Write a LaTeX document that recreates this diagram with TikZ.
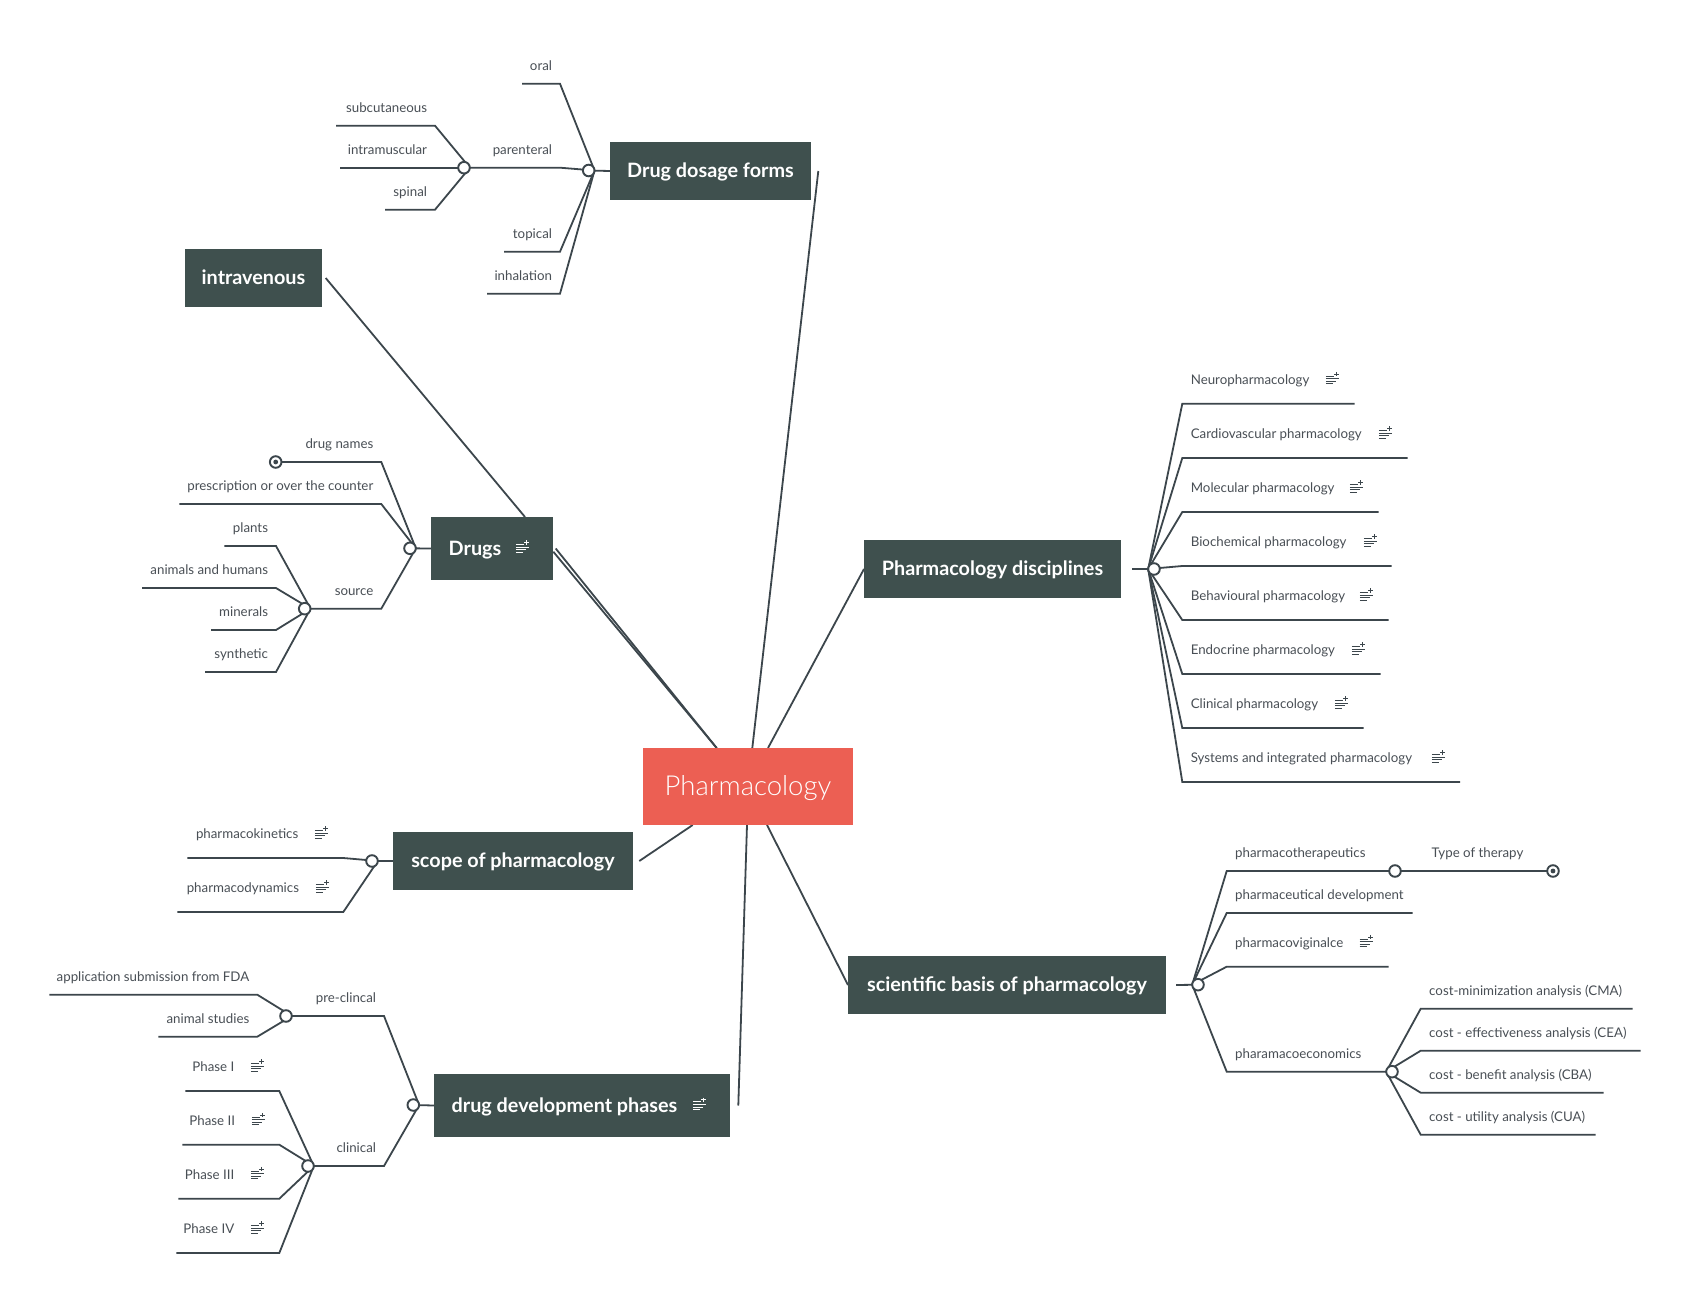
\documentclass[tikz,border=0pt]{standalone}
\usepackage{fontspec}
\setmainfont{Lato}
\newfontfamily\rootfont{Lato Light}
\usetikzlibrary{calc}
\pgfdeclarelayer{conn}
\pgfsetlayers{conn,main}
\definecolor{boxdark}{HTML}{3F504E}
\definecolor{linedark}{HTML}{3C464C}
\definecolor{rootred}{HTML}{EC5F53}
\definecolor{leaftext}{HTML}{494F55}
\tikzset{
  conn/.style={draw=linedark,line width=1.8pt,line join=miter},
  hub/.style={circle,draw=linedark,fill=white,line width=1.9pt,minimum size=11.6pt,inner sep=0pt,outer sep=0pt},
  leaf/.style={font=\fontsize{13.3}{15}\selectfont,text=leaftext,inner sep=0pt,outer sep=0pt},
  mainbox/.style={fill=boxdark,text=white,font=\fontsize{19.8}{22}\bfseries\selectfont,inner sep=0pt,outer sep=0pt,text height=16.6pt,text depth=3.5pt},
  rootbox/.style={fill=rootred,text=white,font=\rootfont\fontsize{27.5}{30}\selectfont,inner sep=0pt,outer sep=0pt,text height=23pt,text depth=5pt},
  notes/.pic={
    \draw[line width=1.15pt] (-6.5,-2.6)--(1.5,-2.6) (-6.5,0.2)--(6.5,0.2) (-6.5,2.8)--(4,2.8) (-6.5,5.2)--(0.5,5.2);
    \draw[line width=1.15pt] (2,-4.6)--(6.5,-4.6) (4.25,-6.8)--(4.25,-2.4);
  }
}
% left leaf: name, hub, xend, xbend, y, text
\newcommand\LL[6]{%
  \node[leaf,anchor=base east] (#1) at ({#4-8},{#5-13.2}) {#6};
  \coordinate (#1-b) at (#4,#5);
  \coordinate (#1-e) at (#3,#5);
  \begin{pgfonlayer}{conn}\draw[conn] (#2.east) -- (#1-b) -- (#1-e);\end{pgfonlayer}}
% left branch ending on a hub: name, hub, endhub, xbend, y, text
\newcommand\LH[6]{%
  \node[leaf,anchor=base east] (#1) at ({#4-8},{#5-13.2}) {#6};
  \coordinate (#1-b) at (#4,#5);
  \begin{pgfonlayer}{conn}\draw[conn] (#2.east) -- (#1-b) -- (#3.center);\end{pgfonlayer}}
% left leaf with icon: name, hub, xend, xbend, y, text, textright, iconx
\newcommand\LI[8]{%
  \node[leaf,anchor=base east] (#1) at (#7,{#5-19.6}) {#6};
  \pic[color=linedark] at (#8,{#5-25}) {notes};
  \coordinate (#1-b) at (#4,#5);
  \coordinate (#1-e) at (#3,#5);
  \begin{pgfonlayer}{conn}\draw[conn] (#2.east) -- (#1-b) -- (#1-e);\end{pgfonlayer}}
% right leaf: name, hub, xend, xbend, y, text
\newcommand\RL[6]{%
  \node[leaf,anchor=base west] (#1) at ({#4+8.5},{#5-13.2}) {#6};
  \coordinate (#1-b) at (#4,#5);
  \coordinate (#1-e) at (#3,#5);
  \begin{pgfonlayer}{conn}\draw[conn] (#2.west) -- (#1-b) -- (#1-e);\end{pgfonlayer}}
% right branch ending on a hub
\newcommand\RH[6]{%
  \node[leaf,anchor=base west] (#1) at ({#4+8.5},{#5-13.2}) {#6};
  \coordinate (#1-b) at (#4,#5);
  \begin{pgfonlayer}{conn}\draw[conn] (#2.west) -- (#1-b) -- (#3.center);\end{pgfonlayer}}
% right leaf with icon: name, hub, xend, xbend, y, text, iconx
\newcommand\RI[7]{%
  \node[leaf,anchor=base west] (#1) at ({#4+8.5},{#5-19.6}) {#6};
  \pic[color=linedark] at (#7,{#5-25}) {notes};
  \coordinate (#1-b) at (#4,#5);
  \coordinate (#1-e) at (#3,#5);
  \begin{pgfonlayer}{conn}\draw[conn] (#2.west) -- (#1-b) -- (#1-e);\end{pgfonlayer}}
\begin{document}
\begin{tikzpicture}[x=1pt,y=-1pt]
\useasboundingbox (0,0) rectangle (1690,1301);
\begin{pgfonlayer}{conn}\fill[white] (0,0) rectangle (1690,1301);\end{pgfonlayer}

% main boxes
\node[rootbox,minimum width=210pt,minimum height=77pt] (root) at (748,786.5) {Pharmacology};
\node[mainbox,minimum width=201pt,minimum height=58pt] (dosage) at (710.5,171) {Drug dosage forms};
\node[mainbox,minimum width=137pt,minimum height=58pt] (iv) at (253.5,278) {intravenous};
\node[mainbox,minimum width=122pt,minimum height=63pt] (drugs) at (492,548.5) {Drugs\kern34pt\null};
\pic[color=white] at (522.3,547) {notes};
\node[mainbox,minimum width=240pt,minimum height=58pt] (scope) at (513,861) {scope of pharmacology};
\node[mainbox,minimum width=296pt,minimum height=63pt] (dev) at (582,1105.5) {drug development phases\kern35pt\null};
\pic[color=white] at (699.3,1104.3) {notes};
\node[mainbox,minimum width=257pt,minimum height=58pt] (disc) at (992.5,569) {Pharmacology disciplines};
\node[mainbox,minimum width=318pt,minimum height=58pt] (sci) at (1007,985) {scientific basis of pharmacology};

% hubs
\node[hub] (j1) at (588.7,170.5) {};
\node[hub] (j2) at (464,167.7) {};
\node[hub] (jd) at (410,548.3) {};
\node[hub] (js) at (304.7,608.7) {};
\node[hub] (jc) at (372,861) {};
\node[hub] (jv) at (413.3,1105) {};
\node[hub] (ja) at (286,1016) {};
\node[hub] (jb) at (308,1166) {};
\node[hub] (jp) at (1154,569) {};
\node[hub] (jq) at (1198,984.7) {};
\node[hub] (jr) at (1395,871) {};
\node[hub] (jt) at (1392,1071.7) {};
\node[hub] (tn) at (275.7,462) {};
\fill[linedark] (tn.center) circle (2.4pt);
\node[hub] (tt) at (1553,871) {};
\fill[linedark] (tt.center) circle (2.4pt);

% connectors from the root
\begin{pgfonlayer}{conn}
\draw[conn] ([xshift=7.3pt]dosage.east) -- ([xshift=4.3pt]root.north);
\draw[conn] ([xshift=3.7pt]iv.east) -- ([xshift=33pt]drugs.north);
\draw[conn] ([xshift=2.7pt]drugs.east) -- ([xshift=-31.3pt]root.north);
\draw[conn] ([xshift=0.3pt,yshift=-3.2pt]drugs.east) -- ([xshift=-31.3pt]root.north);
\draw[conn] (disc.west) -- ([xshift=20pt]root.north);
\draw[conn] ([xshift=6.3pt]scope.east) -- ([xshift=-55.3pt]root.south);
\draw[conn] ([xshift=8.3pt]dev.east) -- ([xshift=-1pt]root.south);
\draw[conn] (sci.west) -- ([xshift=19pt]root.south);
% stems
\draw[conn] (dosage.west) -- (j1);
\draw[conn] (drugs.west) -- (jd);
\draw[conn] (scope.west) -- (jc);
\draw[conn] (dev.west) -- (jv);
\draw[conn] ([xshift=11pt]disc.east) -- (jp);
\draw[conn] ([xshift=10pt]sci.east) -- (jq);
\draw[conn] (jr) -- (tt);
\end{pgfonlayer}

% Drug dosage forms
\LL{oral}{j1}{522}{560}{83.7}{oral}
\LH{parenteral}{j1}{j2}{560}{167.7}{parenteral}
\LL{topical}{j1}{504}{560}{251.7}{topical}
\LL{inhalation}{j1}{487}{560}{293.7}{inhalation}
\LL{subcutaneous}{j2}{336}{435}{125.7}{subcutaneous}
\LL{intramuscular}{j2}{340}{435}{167.7}{intramuscular}
\LL{spinal}{j2}{385}{435}{209.7}{spinal}

% Drugs
\LH{drugnames}{jd}{tn}{381.3}{462}{drug names}
\LL{prescription}{jd}{179.3}{381.3}{504}{prescription or over the counter}
\LH{source}{jd}{js}{381.3}{608.7}{source}
\LL{plants}{js}{224.3}{276}{546}{plants}
\LL{animals}{js}{142}{276}{588}{animals and humans}
\LL{minerals}{js}{211}{276}{630}{minerals}
\LL{synthetic}{js}{205}{276}{672}{synthetic}

% scope
\LI{kinetics}{jc}{187.3}{343.3}{858}{pharmacokinetics}{298.3}{321.3}
\LI{dynamics}{jc}{177.3}{343.3}{912}{pharmacodynamics}{299}{322.3}

% development
\LH{preclinical}{jv}{ja}{384}{1016}{pre-clincal}
\LH{clinical}{jv}{jb}{384}{1166}{clinical}
\LL{application}{ja}{49.3}{257.3}{994.7}{application submission from FDA}
\LL{animalstudies}{ja}{158.3}{257.3}{1036.7}{animal studies}
\LI{phaseone}{jb}{185.3}{279.3}{1091}{Phase I}{234.3}{257.3}
\LI{phasetwo}{jb}{182.3}{279.3}{1144.7}{Phase II}{235}{258.3}
\LI{phasethree}{jb}{178.3}{279.3}{1198.7}{Phase III}{234.3}{257.3}
\LI{phasefour}{jb}{176.3}{279.3}{1253}{Phase IV}{234.3}{257.3}

% disciplines
\RI{neuro}{jp}{1354.7}{1182.3}{403.7}{Neuropharmacology}{1332.3}
\RI{cardio}{jp}{1407.7}{1182.3}{458}{Cardiovascular pharmacology}{1385.3}
\RI{molecular}{jp}{1378.7}{1182.3}{512}{Molecular pharmacology}{1356.3}
\RI{biochem}{jp}{1391.7}{1182.3}{566}{Biochemical pharmacology}{1370.3}
\RI{behav}{jp}{1388.7}{1182.3}{620}{Behavioural pharmacology}{1366.3}
\RI{endo}{jp}{1380.7}{1182.3}{674}{Endocrine pharmacology}{1358.3}
\RI{clinicalph}{jp}{1363.7}{1182.3}{728}{Clinical pharmacology}{1341.3}
\RI{systems}{jp}{1460}{1182.3}{782}{Systems and integrated pharmacology}{1438.3}

% scientific basis
\RH{therapeutics}{jq}{jr}{1226.7}{871}{pharmacotherapeutics}
\node[leaf,anchor=base west] (therapy) at (1431.7,857.8) {Type of therapy};
\RL{development}{jq}{1412.7}{1226.7}{913}{pharmaceutical development}
\RI{vigilance}{jq}{1388.7}{1226.7}{966.7}{pharmacoviginalce}{1366}
\RH{economics}{jq}{jt}{1226.7}{1071.7}{pharamacoeconomics}
\RL{cma}{jt}{1632.7}{1420.7}{1008.7}{cost-minimization analysis (CMA)}
\RL{cea}{jt}{1640.7}{1420.7}{1050.7}{cost - effectiveness analysis (CEA)}
\RL{cba}{jt}{1603.7}{1420.7}{1092.7}{cost - benefit analysis (CBA)}
\RL{cua}{jt}{1595.7}{1420.7}{1134.7}{cost - utility analysis (CUA)}
\end{tikzpicture}
\end{document}
